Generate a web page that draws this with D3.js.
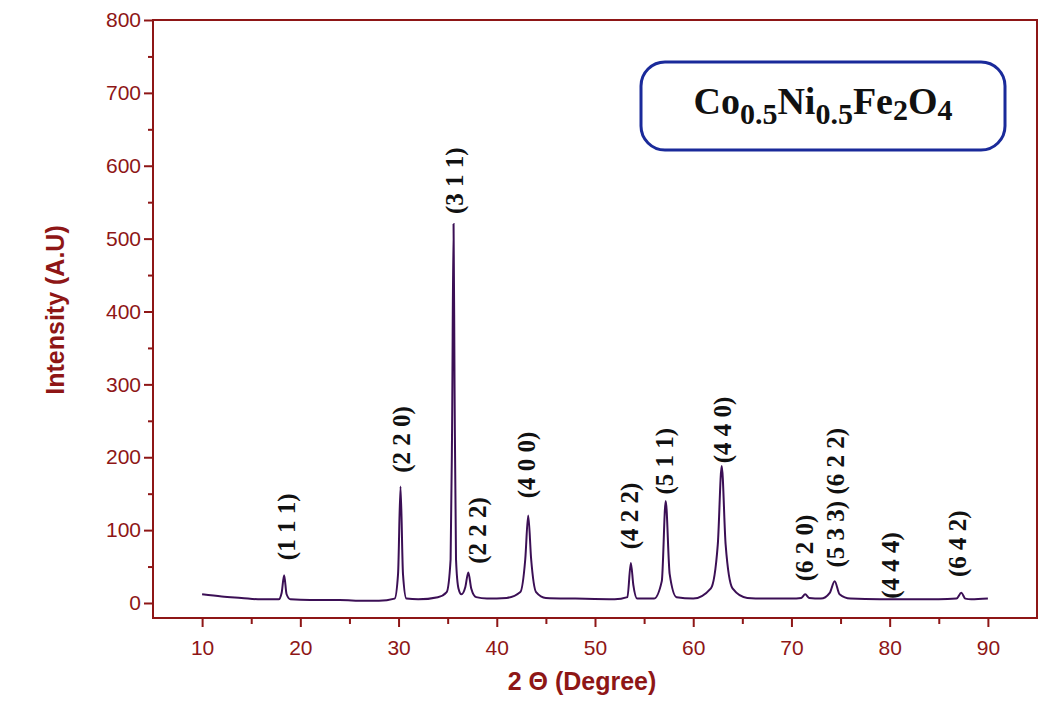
<!DOCTYPE html><html><head><meta charset="utf-8">
<script src="https://cdn.jsdelivr.net/npm/d3@7"></script>
<style>body{margin:0;background:#fff}</style></head><body>
<svg id="c" width="1048" height="702"></svg>
<script>
const twoTheta = [10,12,14,16,17.8,18.1,18.35,18.6,19,21,24,26.5,28,29.6,29.95,30.2,30.45,30.8,32,34,34.9,35.3,35.45,35.6,35.7,35.85,36.1,36.4,36.8,37.1,37.4,37.9,39,41,42.4,42.9,43.2,43.5,44,45,48,52,53.3,53.65,53.9,54.3,56,56.8,57.2,57.6,58.3,60,61.8,62.5,62.9,63.3,64,65.5,68,70,71,71.4,71.8,73,73.9,74.4,74.9,76,79,82,85,86.8,87.3,87.7,88.3,90];
const intensity = [12,9,7,5,5,14,38,12,5,4,4,3,3,6,40,160,40,6,5,8,15,60,240,520,300,60,20,12,22,42,20,8,6,7,15,60,120,60,15,7,6,5,8,55,25,6,6,30,140,40,8,6,20,80,188,80,20,7,6,6,7,12,7,6,14,30,12,6,5,5,5,6,14,6,5,6];
const hkl = ["(1 1 1)","(2 2 0)","(3 1 1)","(2 2 2)","(4 0 0)","(4 2 2)","(5 1 1)","(4 4 0)","(6 2 0)","(5 3 3) (6 2 2)","(4 4 4)","(6 4 2)"];
const hklX = [18.5,30.2,35.6,38.0,43.0,53.5,57.0,62.9,71.3,74.4,80.0,86.9];
const hklY = [45,165,520,40,130,60,135,178,16,35,-8,22];
const xTicks = [10,20,30,40,50,60,70,80,90];
const yTicks = [0,100,200,300,400,500,600,700,800];

const svg = d3.select("#c");
const L=153,R=1037,T=20,B=618;
const x = d3.scaleLinear().domain([5,95]).range([L,R]);
const y = d3.scaleLinear().domain([-20.6,800]).range([B,T]);
const red="#8e1616";
svg.append("rect").attr("x",L).attr("y",T).attr("width",R-L).attr("height",B-T).attr("fill","none").attr("stroke",red).attr("stroke-width",2);
const xa = svg.append("g").attr("transform",`translate(0,${B})`).call(d3.axisBottom(x).tickValues(d3.range(10,91,5)).tickSize(9).tickFormat(d=>xTicks.includes(d)?d:""));
const ya = svg.append("g").attr("transform",`translate(${L},0)`).call(d3.axisLeft(y).tickValues(d3.range(0,801,50)).tickSize(9).tickFormat(d=>yTicks.includes(d)?d:""));
[xa,ya].forEach(a=>{a.select(".domain").remove();a.selectAll("line").attr("stroke",red).attr("stroke-width",2);
 a.selectAll("text").attr("fill",red).attr("font-family","Liberation Sans, Arial").attr("font-size",21);});
xa.selectAll(".tick").filter(d=>!xTicks.includes(d)).select("line").attr("y2",6);
ya.selectAll(".tick").filter(d=>!yTicks.includes(d)).select("line").attr("x2",-5);
xa.selectAll("text").attr("dy","1.2em");
ya.selectAll("text").attr("x",-12);
svg.append("path").datum(twoTheta.map((t,i)=>[t,intensity[i]]))
 .attr("d",d3.line().curve(d3.curveMonotoneX).x(d=>x(d[0])).y(d=>y(d[1]))).attr("fill","none").attr("stroke","#3b0f55").attr("stroke-width",2);
hkl.forEach((h,i)=>{
 svg.append("text").attr("transform",`translate(${x(hklX[i])+9},${y(hklY[i])-10}) rotate(-90)`)
 .attr("font-family","Liberation Serif, Times New Roman").attr("font-weight","bold").attr("font-size",25).attr("fill","#111").text(h);
});
svg.append("text").attr("transform","translate(64,310) rotate(-90)").attr("text-anchor","middle")
 .attr("font-family","Liberation Sans, Arial").attr("font-weight","bold").attr("font-size",25).attr("fill",red).text("Intensity (A.U)");
svg.append("text").attr("x",582).attr("y",690).attr("text-anchor","middle")
 .attr("font-family","Liberation Sans, Arial").attr("font-weight","bold").attr("font-size",25).attr("fill",red).text("2 Θ (Degree)");
svg.append("rect").attr("x",641).attr("y",62).attr("width",364).attr("height",88).attr("rx",24).attr("fill","#fff").attr("stroke","#1a2a9a").attr("stroke-width",3);
const t=svg.append("text").attr("x",823).attr("y",114).attr("text-anchor","middle").attr("font-family","Liberation Serif, Times New Roman").attr("font-weight","bold").attr("font-size",38).attr("fill","#111");
[["Co",0],["0.5",10],["Ni",-10],["0.5",10],["Fe",-10],["2",6],["O",-6],["4",6]].forEach(([s,dy],i)=>{
 t.append("tspan").attr("dy",dy).attr("font-size",i%2?30:38).text(s);
});
</script></body></html>
